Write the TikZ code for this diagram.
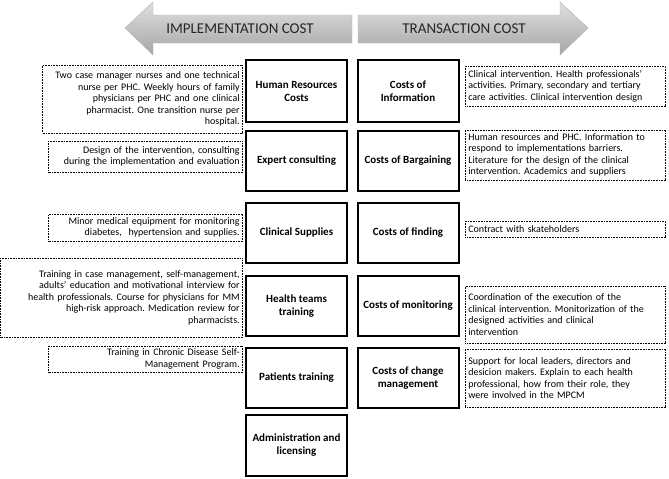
\documentclass[tikz,border=0pt]{standalone}
\usepackage{fontspec}
\setmainfont{Carlito}
\begin{document}
\frenchspacing
\begin{tikzpicture}[x=1pt,y=-1pt,
  main/.style={draw=black,line width=2pt,fill=white,font=\fontsize{11}{13}\selectfont\bfseries,align=center,inner sep=2pt,minimum width=101pt},
  ltxt/.style={draw=black,densely dotted,line width=0.6pt,align=right,font=\fontsize{10}{11.5}\selectfont,inner sep=3pt},
  rtxt/.style={draw=black,densely dotted,line width=0.6pt,align=left,font=\fontsize{10}{11.5}\selectfont,inner sep=3pt,text width=194pt},
  arr/.style={top color=gray!25,bottom color=gray!70,draw=gray!60,line width=0.4pt},
  arrlbl/.style={font=\fontsize{15}{17}\selectfont,text=black!85}]
\useasboundingbox (0,0) rectangle (669,479);
% arrows
\draw[arr] (125,28) -- (153,2) -- (153,15) -- (352,15) -- (352,43) -- (153,43) -- (153,55) -- cycle;
\draw[arr] (588,28) -- (560,2) -- (560,15) -- (358,15) -- (358,43) -- (560,43) -- (560,55) -- cycle;
\node[arrlbl] (impl) at (240,29) {IMPLEMENTATION COST};
\node[arrlbl] (trans) at (464,29) {TRANSACTION COST};
% main boxes
\node[main,minimum height=62pt] (hr) at (296.5,91) {Human Resources\\Costs};
\node[main,minimum height=60pt] (ec) at (296.5,161) {Expert consulting};
\node[main,minimum height=60pt] (cs) at (296.5,233) {Clinical Supplies};
\node[main,minimum height=60pt] (ht) at (296.5,306) {Health teams\\training};
\node[main,minimum height=60pt] (pt) at (296.5,378) {Patients training};
\node[main,minimum height=61pt] (ad) at (296.5,445.5) {Administration and\\licensing};
\node[main,minimum height=62pt] (ci) at (408,91) {Costs of\\Information};
\node[main,minimum height=60pt] (cb) at (408,161) {Costs of Bargaining};
\node[main,minimum height=60pt] (cf) at (408,233) {Costs of finding};
\node[main,minimum height=60pt] (cm) at (408,306) {Costs of monitoring};
\node[main,minimum height=60pt] (cc) at (408,378) {Costs of change\\management};
% left texts
\node[ltxt,text width=194pt,minimum height=68pt,anchor=east] (l1) at (243,99) {Two case manager nurses and one technical\\nurse per PHC. Weekly hours of family\\physicians per PHC and one clinical\\pharmacist. One transition nurse per\\hospital.};
\node[ltxt,text width=188pt,minimum height=31pt,anchor=east] (l2) at (243,156.5) {Design of the intervention, consulting\\during the implementation and evaluation};
\node[ltxt,text width=188pt,minimum height=27pt,anchor=east] (l3) at (243,227.5) {Minor medical equipment for monitoring\\diabetes,\ \ hypertension and supplies.};
\node[ltxt,text width=236pt,minimum height=79pt,anchor=east] (l4) at (243,297.5) {Training in case management, self-management,\\adults' education and motivational interview for\\health professionals. Course for physicians for MM\\high-risk approach. Medication review for\\pharmacists.};
\node[ltxt,text width=188pt,minimum height=26pt,anchor=east] (l5) at (243,359) {Training in Chronic Disease Self-\\Management Program.};
% right texts
\node[rtxt,minimum height=40pt,anchor=west] (r1) at (465,86) {Clinical intervention. Health professionals'\\activities. Primary, secondary and tertiary\\care activities. Clinical intervention design};
\node[rtxt,minimum height=50pt,anchor=west] (r2) at (465,155) {Human resources and PHC. Information to\\respond to implementations barriers.\\Literature for the design of the clinical\\intervention. Academics and suppliers};
\node[rtxt,minimum height=16pt,anchor=west] (r3) at (465,229) {Contract with skateholders};
\node[rtxt,minimum height=57pt,anchor=west] (r4) at (465,314.5) {Coordination of the execution of the\\clinical intervention. Monitorization of the\\designed activities and clinical\\intervention};
\node[rtxt,minimum height=58pt,anchor=west] (r5) at (465,378) {Support for local leaders, directors and\\desicion makers. Explain to each health\\professional, how from their role, they\\were involved in the MPCM};
\end{tikzpicture}
\end{document}
